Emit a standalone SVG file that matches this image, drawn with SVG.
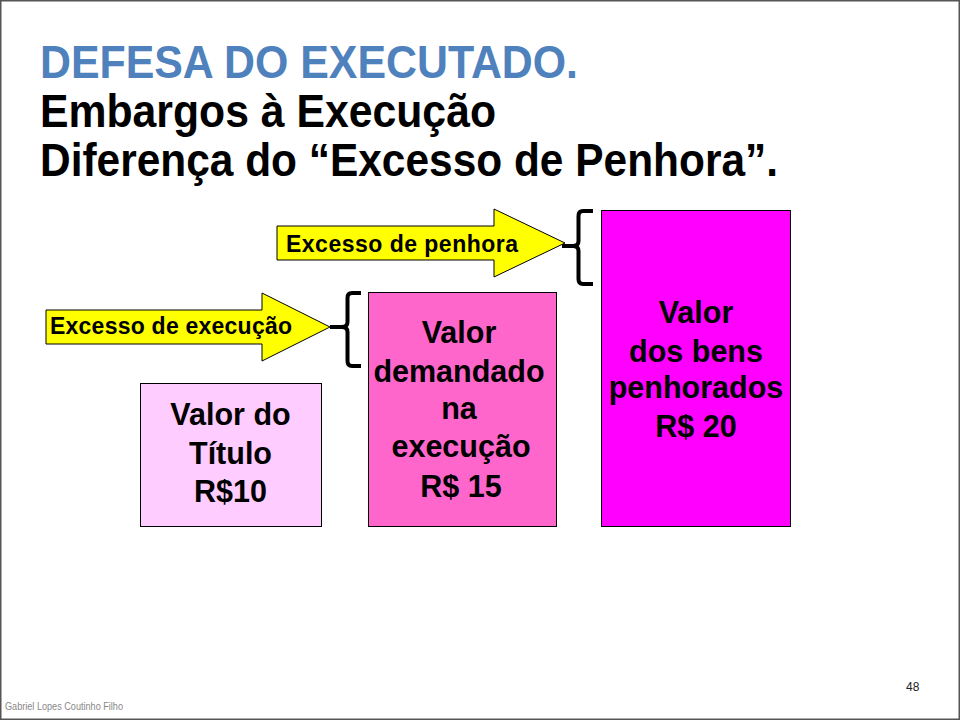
<svg xmlns="http://www.w3.org/2000/svg" width="960" height="720" viewBox="0 0 960 720">
<style>
  .t { font-family: "Liberation Sans", Arial, sans-serif; font-weight: bold; }
  .title { font-size: 46px; }
  .box { stroke: #000; stroke-width: 1; }
  .btxt { font-size: 30.5px; fill: #000; text-anchor: middle; }
  .arrow { fill: #FFFF00; stroke: #000; stroke-width: 1; }
  .alab { font-size: 23px; fill: #000; }
  .brace { fill: none; stroke: #000; stroke-width: 4; stroke-linecap: butt; stroke-linejoin: round; }
</style>
<rect x="0" y="0" width="960" height="720" fill="#fff"/>
<rect x="0.75" y="0.75" width="958.5" height="718.5" fill="none" stroke="#555" stroke-width="1.5"/>

<g id="title">
  <text class="t title" x="40" y="78" fill="#4F81BD" textLength="538" lengthAdjust="spacingAndGlyphs">DEFESA DO EXECUTADO.</text>
  <text class="t title" x="40" y="127" fill="#000" textLength="456" lengthAdjust="spacingAndGlyphs">Embargos à Execução</text>
  <text class="t title" x="40" y="176" fill="#000" textLength="738" lengthAdjust="spacingAndGlyphs">Diferença do “Excesso de Penhora”.</text>
</g>

<g id="box-titulo">
  <rect class="box" x="140.5" y="383.5" width="181" height="143" fill="#FFCCFF"/>
  <text class="t btxt" x="230.5" y="425">Valor do</text>
  <text class="t btxt" x="230.5" y="464">Título</text>
  <text class="t btxt" x="230.5" y="502">R$10</text>
</g>

<g id="box-demandado">
  <rect class="box" x="368.5" y="292.5" width="188" height="234" fill="#FF66CC"/>
  <text class="t btxt" x="459" y="343">Valor</text>
  <text class="t btxt" x="459" y="382">demandado</text>
  <text class="t btxt" x="459" y="419">na</text>
  <text class="t btxt" x="461" y="457">execução</text>
  <text class="t btxt" x="461" y="497">R$ 15</text>
</g>

<g id="box-penhorados">
  <rect class="box" x="601.5" y="210.5" width="189" height="316" fill="#FF00FF"/>
  <text class="t btxt" x="696" y="323">Valor</text>
  <text class="t btxt" x="696" y="362">dos bens</text>
  <text class="t btxt" x="696" y="398">penhorados</text>
  <text class="t btxt" x="696" y="437">R$ 20</text>
</g>

<g id="arrow-penhora">
  <polygon class="arrow" points="277,226 494,226 494,209 565,243 494,277 494,260 277,260"/>
  <text class="t alab" x="286" y="252" textLength="232">Excesso de penhora</text>
</g>

<g id="arrow-execucao">
  <polygon class="arrow" points="46,310 262,310 262,293 330,327 262,361 262,344 46,344"/>
  <text class="t alab" x="50" y="334" textLength="242">Excesso de execução</text>
</g>

<g id="connectors">
  <path class="brace" d="M593,211 H583 Q578.5,211 578.5,216 V241 Q578.5,246 573,246 H562 M573,246 Q578.5,246 578.5,251 V279 Q578.5,284 583,284 H593"/>
  <path class="brace" d="M361,293 H352 Q347.5,293 347.5,298 V322 Q347.5,327 342,327 H330 M342,327 Q347.5,327 347.5,332 V361 Q347.5,366 352,366 H361"/>
</g>

<g id="footer">
  <text x="906" y="691" font-family="Liberation Sans, Arial, sans-serif" font-size="12" fill="#222">48</text>
  <text x="5" y="710" font-family="Liberation Sans, Arial, sans-serif" font-size="10" fill="#888" textLength="118" lengthAdjust="spacingAndGlyphs">Gabriel Lopes Coutinho Filho</text>
</g>
</svg>
